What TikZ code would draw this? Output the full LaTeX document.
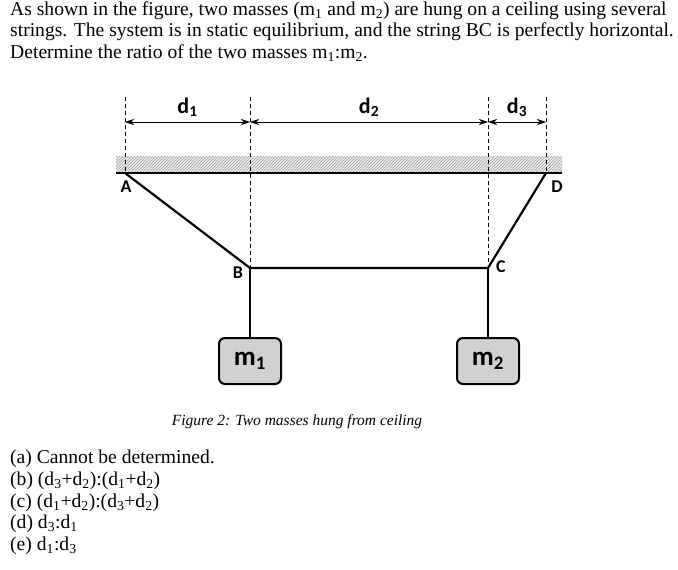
\documentclass[tikz,border=0pt]{standalone}
\usepackage{fontspec}
\setmainfont{Liberation Serif}
\newfontfamily\lab{Carlito}
\usetikzlibrary{patterns,arrows.meta}
\begin{document}
\begin{tikzpicture}[x=1pt,y=-1pt,
  dim/.style={{Stealth[length=9pt,width=6pt]}-{Stealth[length=9pt,width=6pt]},line width=0.6pt},
  guide/.style={dashed,line width=0.6pt,dash pattern=on 4pt off 3pt},
  str/.style={line width=2.2pt},
  mass/.style={draw,line width=2pt,fill=black!18,rounded corners=6pt,minimum width=62pt,minimum height=46pt,font=\lab\bfseries\fontsize{27}{29}\selectfont},
  pt/.style={font=\lab\bfseries\fontsize{18}{19}\selectfont},
  dl/.style={above=2pt,font=\lab\bfseries\fontsize{22}{24}\selectfont},
  txt/.style={anchor=north west,inner sep=0,align=left,font=\fontsize{19.6}{21.5}\selectfont}]
\useasboundingbox (0,0) rectangle (678,570);
\node[txt] (q) at (10,1) {As shown in the figure, two masses (m\textsubscript{1} and m\textsubscript{2}) are hung on a ceiling using several\\strings. The system is in static equilibrium, and the string BC is perfectly horizontal.\\Determine the ratio of the two masses m\textsubscript{1}:m\textsubscript{2}.};
% ceiling
\fill[pattern=north east lines,pattern color=black!60] (116,156) rectangle (562,173);
\fill[black!15,opacity=0.5] (116,156) rectangle (562,173);
\draw[line width=2.2pt] (116,173) -- (562,173);
\coordinate (A) at (125,173);
\coordinate (B) at (250,268);
\coordinate (C) at (488,268);
\coordinate (D) at (546,173);
\coordinate (gA) at (125,97);
\coordinate (gB) at (250,97);
\coordinate (gC) at (488,97);
\coordinate (gD) at (546,97);
\draw[guide] (gA) -- (A);
\draw[guide] (gB) -- (B);
\draw[guide] (gC) -- (C);
\draw[guide] (gD) -- (D);
\draw[dim] (125,122) -- node[dl] (d1) {d\textsubscript{1}} (250,122);
\draw[dim] (250,122) -- node[dl] (d2) {d\textsubscript{2}} (488,122);
\draw[dim] (488,122) -- node[dl] (d3) {d\textsubscript{3}} (546,122);
\draw[str] (A) -- (B) -- (C) -- (D);
\node[mass] (m1) at (250,361) {m\textsubscript{1}};
\node[mass] (m2) at (488,361) {m\textsubscript{2}};
\draw[str] (B) -- (m1.north);
\draw[str] (C) -- (m2.north);
\node[pt] (la) at (126,187) {A};
\node[pt] (lb) at (238,273) {B};
\node[pt] (lc) at (501,267) {C};
\node[pt] (ld) at (557,187) {D};
\node[font=\itshape\fontsize{15.5}{17}\selectfont] (cap) at (297,422) {Figure 2: Two masses hung from ceiling};
\node[txt,font=\fontsize{19.6}{21.6}\selectfont] (ans) at (10,450) {(a) Cannot be determined.\\(b) (d\textsubscript{3}+d\textsubscript{2}):(d\textsubscript{1}+d\textsubscript{2})\\(c) (d\textsubscript{1}+d\textsubscript{2}):(d\textsubscript{3}+d\textsubscript{2})\\(d) d\textsubscript{3}:d\textsubscript{1}\\(e) d\textsubscript{1}:d\textsubscript{3}};
\end{tikzpicture}
\end{document}
